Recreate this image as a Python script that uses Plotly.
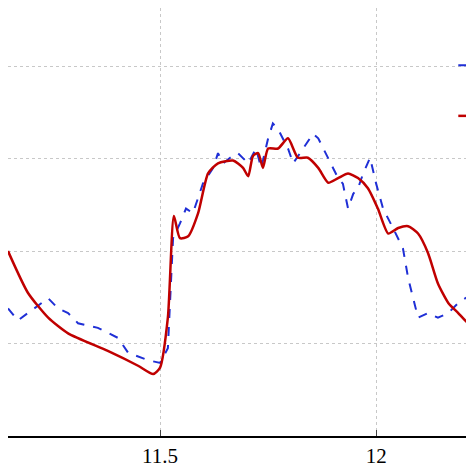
import plotly.graph_objects as go

red_x = [11.148,11.194,11.241,11.287,11.379,11.449,11.484,11.500,11.518,11.532,11.546,11.565,11.588,11.611,11.634,11.669,11.692,11.704,11.715,11.727,11.738,11.750,11.773,11.796,11.819,11.842,11.866,11.889,11.912,11.935,11.958,11.981,12.004,12.028,12.051,12.074,12.097,12.120,12.143,12.167,12.190,12.213,12.245]
red_y = [2.00,1.55,1.28,1.11,0.92,0.76,0.67,0.74,1.28,2.38,2.14,2.16,2.41,2.84,2.95,2.98,2.90,2.81,3.03,3.06,2.90,3.11,3.11,3.22,3.01,3.01,2.90,2.74,2.79,2.84,2.79,2.68,2.46,2.19,2.25,2.27,2.19,1.98,1.65,1.44,1.33,1.22,1.17]

blue_x = [11.148,11.171,11.194,11.217,11.241,11.264,11.287,11.310,11.356,11.403,11.426,11.472,11.500,11.518,11.530,11.546,11.560,11.576,11.599,11.623,11.634,11.646,11.662,11.680,11.704,11.722,11.734,11.750,11.761,11.773,11.796,11.808,11.831,11.854,11.866,11.889,11.912,11.923,11.935,11.947,11.958,11.970,11.986,12.000,12.016,12.039,12.062,12.074,12.097,12.120,12.143,12.167,12.190,12.213,12.245]
blue_y = [1.38,1.25,1.33,1.41,1.49,1.38,1.33,1.22,1.17,1.06,0.90,0.82,0.79,0.95,2.14,2.30,2.46,2.41,2.73,2.90,3.06,2.95,3.01,3.06,2.95,3.11,2.90,3.22,3.38,3.32,3.11,2.95,3.11,3.27,3.22,3.01,2.79,2.73,2.46,2.62,2.68,2.84,3.01,2.73,2.46,2.25,2.03,1.71,1.28,1.33,1.28,1.33,1.44,1.51,1.44]

x_ticks = [11.5, 12]
x_tick_labels = ["11.5", "12"]
y_grid = [1, 2, 3, 4]

fig = go.Figure()
fig.add_trace(go.Scatter(x=blue_x, y=blue_y, mode="lines", name="Measured",
                         line=dict(color="#1f2fd6", width=2, dash="dash")))
fig.add_trace(go.Scatter(x=red_x, y=red_y, mode="lines", name="Simulated",
                         line=dict(color="#c00000", width=2.5, shape="spline", smoothing=0.6)))

# legend samples (the legend is cropped at the right edge in the reference)
fig.add_shape(type="line", xref="paper", yref="paper", x0=0.95, x1=1.0, y0=0.866, y1=0.866,
              line=dict(color="#1f2fd6", width=2, dash="dash"))
fig.add_shape(type="line", xref="paper", yref="paper", x0=0.95, x1=1.0, y0=0.748, y1=0.748,
              line=dict(color="#c00000", width=2.5))

fig.update_layout(
    width=474, height=474, showlegend=False,
    margin=dict(l=0, r=0, t=0, b=46),
    paper_bgcolor="white", plot_bgcolor="white",
    font=dict(family="Liberation Serif", size=21, color="black"),
    xaxis=dict(range=[11.148, 12.245], tickvals=x_ticks, ticktext=x_tick_labels,
               showgrid=True, gridcolor="#c8c8c8", griddash="dot", gridwidth=1,
               showline=True, linecolor="black", linewidth=1.5,
               ticks="inside", ticklen=6, zeroline=False),
    yaxis=dict(range=[0, 4.63], tickvals=y_grid, showticklabels=False,
               showgrid=True, gridcolor="#c8c8c8", griddash="dot", gridwidth=1,
               showline=False, zeroline=False),
)
fig.write_html("out.html")
